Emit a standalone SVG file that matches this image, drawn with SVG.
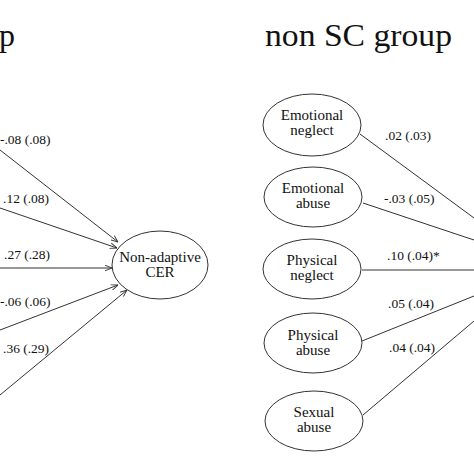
<svg xmlns="http://www.w3.org/2000/svg" width="474" height="474" viewBox="0 0 474 474">
<style>
.t{font-family:"Liberation Serif","Times New Roman",serif;fill:#111;}
.title{font-size:32px;}
.node{font-size:15px;text-anchor:middle;}
.lab{font-size:13.5px;}
ellipse{fill:#fff;stroke:#333;stroke-width:1;}
.c line{stroke:#333;stroke-width:1;fill:none;}
</style>
<defs>
<marker id="arr" viewBox="0 0 10 10" refX="10" refY="5" markerWidth="7" markerHeight="7" markerUnits="userSpaceOnUse" orient="auto">
<path d="M0,1 L10,5 L0,9" fill="none" stroke="#333" stroke-width="1.3"/>
</marker>
</defs>
<rect width="474" height="474" fill="#fff"/>
<text class="t title" x="-1" y="46">p</text>
<text class="t title" x="265" y="46" textLength="187" lengthAdjust="spacingAndGlyphs">non SC group</text>
<g class="c" id="connectors">
<line x1="0" y1="150" x2="118" y2="242" marker-end="url(#arr)"/>
<line x1="0" y1="208" x2="117" y2="248" marker-end="url(#arr)"/>
<line x1="0" y1="268" x2="112" y2="268" marker-end="url(#arr)"/>
<line x1="0" y1="330" x2="118" y2="285" marker-end="url(#arr)"/>
<line x1="0" y1="395" x2="127" y2="290" marker-end="url(#arr)"/>
<line x1="360" y1="134" x2="474" y2="218"/>
<line x1="363" y1="203" x2="474" y2="240"/>
<line x1="362" y1="270" x2="474" y2="270"/>
<line x1="362" y1="341" x2="474" y2="296"/>
<line x1="363" y1="415" x2="474" y2="321"/>
</g>
<g id="labels">
<text class="t lab" x="0" y="144">-.08 (.08)</text>
<text class="t lab" x="3" y="203">.12 (.08)</text>
<text class="t lab" x="4" y="259">.27 (.28)</text>
<text class="t lab" x="0" y="306">-.06 (.06)</text>
<text class="t lab" x="3" y="353">.36 (.29)</text>
<text class="t lab" x="385" y="140">.02 (.03)</text>
<text class="t lab" x="384" y="203">-.03 (.05)</text>
<text class="t lab" x="387" y="260">.10 (.04)*</text>
<text class="t lab" x="388" y="308">.05 (.04)</text>
<text class="t lab" x="389" y="352">.04 (.04)</text>
</g>
<g id="non-adaptive-cer">
<ellipse cx="160" cy="265" rx="48" ry="34"/>
<text class="t node" x="160" y="262">Non-adaptive</text>
<text class="t node" x="160" y="277">CER</text>
</g>
<g id="emotional-neglect">
<ellipse cx="312" cy="125" rx="49" ry="31"/>
<text class="t node" x="312" y="120">Emotional</text>
<text class="t node" x="312" y="135">neglect</text>
</g>
<g id="emotional-abuse">
<ellipse cx="313" cy="197" rx="49" ry="30"/>
<text class="t node" x="313" y="193">Emotional</text>
<text class="t node" x="313" y="208">abuse</text>
</g>
<g id="physical-neglect">
<ellipse cx="312" cy="269" rx="49" ry="30"/>
<text class="t node" x="312" y="265">Physical</text>
<text class="t node" x="312" y="280">neglect</text>
</g>
<g id="physical-abuse">
<ellipse cx="313" cy="343" rx="49" ry="30"/>
<text class="t node" x="313" y="340">Physical</text>
<text class="t node" x="313" y="355">abuse</text>
</g>
<g id="sexual-abuse">
<ellipse cx="314" cy="421" rx="49" ry="30"/>
<text class="t node" x="314" y="417">Sexual</text>
<text class="t node" x="314" y="432">abuse</text>
</g>
</svg>
